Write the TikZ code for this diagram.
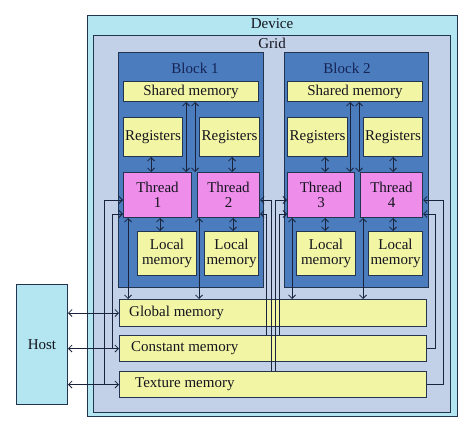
\documentclass[tikz,border=0pt]{standalone}
\usepackage{fontspec}
\setmainfont{Liberation Serif}
\usetikzlibrary{arrows.meta}
\definecolor{devc}{RGB}{180,230,241}
\definecolor{gridc}{RGB}{194,209,232}
\definecolor{blockc}{RGB}{74,124,190}
\definecolor{yelc}{RGB}{242,245,164}
\definecolor{pinkc}{RGB}{238,142,234}
\definecolor{edgec}{RGB}{35,52,80}
\definecolor{linec}{RGB}{25,35,60}
\definecolor{txtc}{RGB}{20,20,30}
\definecolor{blktxt}{RGB}{22,36,85}
\begin{document}
\begin{tikzpicture}[x=1pt,y=-1pt,
  every node/.style={font=\fontsize{15}{15}\selectfont, text=txtc},
  frame/.style={draw=edgec, line width=1pt, anchor=north west, inner sep=0pt, align=center},
  ybox/.style={frame, fill=yelc},
  tbox/.style={frame, fill=pinkc},
  lbl/.style={inner sep=0pt},
  dbl/.style={{Straight Barb[length=3.5pt,width=7pt]}-{Straight Barb[length=3.5pt,width=7pt]}, draw=linec, line width=0.8pt},
  sgl/.style={-{Straight Barb[length=3.5pt,width=7pt]}, draw=linec, line width=0.8pt}
]
\useasboundingbox (0,0) rectangle (474,433);
% containers
\node[frame, fill=devc, minimum width=370, minimum height=401] (device) at (87,15) {};
\node[frame, fill=gridc, minimum width=357, minimum height=377] (grid) at (93,35) {};
\node[lbl] (devlbl) at (272,24) {Device};
\node[lbl] (gridlbl) at (272,43) {Grid};
\node[frame, fill=blockc, minimum width=145, minimum height=235] (block1) at (118,52) {};
\node[frame, fill=blockc, minimum width=144, minimum height=235] (block2) at (284,52) {};
\node[lbl, text=blktxt] (b1lbl) at (195,68) {Block 1};
\node[lbl, text=blktxt] (b2lbl) at (347,68) {Block 2};
% shared memory
\node[ybox, minimum width=135, minimum height=20] (shared1) at (123,81) {Shared memory};
\node[ybox, minimum width=135, minimum height=20] (shared2) at (287,81) {Shared memory};
% registers
\node[ybox, minimum width=59, minimum height=39] (reg1) at (123,117) {Registers};
\node[ybox, minimum width=60, minimum height=39] (reg2) at (199,117) {Registers};
\node[ybox, minimum width=60, minimum height=39] (reg3) at (287,117) {Registers};
\node[ybox, minimum width=59, minimum height=39] (reg4) at (363,117) {Registers};
% threads
\node[tbox, minimum width=68, minimum height=45] (thread1) at (123,172) {Thread\\1};
\node[tbox, minimum width=62, minimum height=45] (thread2) at (197,172) {Thread\\2};
\node[tbox, minimum width=67, minimum height=45] (thread3) at (287,172) {Thread\\3};
\node[tbox, minimum width=62, minimum height=45] (thread4) at (360,172) {Thread\\4};
% local memory
\node[ybox, minimum width=59, minimum height=44] (local1) at (137,231) {Local\\memory};
\node[ybox, minimum width=54, minimum height=44] (local2) at (204,231) {Local\\memory};
\node[ybox, minimum width=59, minimum height=44] (local3) at (296,231) {Local\\memory};
\node[ybox, minimum width=54, minimum height=44] (local4) at (368,231) {Local\\memory};
% device memories
\node[ybox, minimum width=307, minimum height=27] (global) at (119,299) {};
\node[ybox, minimum width=307, minimum height=26] (const) at (119,335) {};
\node[ybox, minimum width=307, minimum height=26] (tex) at (119,371) {};
\node[lbl, anchor=west] (globallbl) at (129,312.5) {Global memory};
\node[lbl, anchor=west] (constlbl) at (131,348) {Constant memory};
\node[lbl, anchor=west] (texlbl) at (135,384) {Texture memory};
% host
\node[frame, fill=devc, minimum width=51, minimum height=120] (host) at (16,284) {Host};
% host arrows
\draw[dbl] (host.east |- global.west) -- (global.west);
\draw[dbl] (host.east |- const.west) -- (const.west);
\draw[dbl] (host.east |- tex.west) -- (tex.west);
% thread side connectors
\coordinate (l1) at (112,214);
\coordinate (l2) at (104,200);
\coordinate (m1) at (266,214);
\coordinate (m2) at (271,200);
\coordinate (m3) at (275,200);
\coordinate (m4) at (279,214);
\coordinate (r1) at (435,214);
\coordinate (r2) at (443,200);
\draw[sgl] (const.west -| l1) -- (l1) -- (l1 -| thread1.west);
\draw[sgl] (tex.west -| l2) -- (l2) -- (l2 -| thread1.west);
\draw[sgl] (const.north -| m1) -- (m1) -- (m1 -| thread2.east);
\draw[sgl] (tex.north -| m2) -- (m2) -- (m2 -| thread2.east);
\draw[sgl] (tex.north -| m3) -- (m3) -- (m3 -| thread3.west);
\draw[sgl] (const.north -| m4) -- (m4) -- (m4 -| thread3.west);
\draw[sgl] (const.east) -| (r1) -- (r1 -| thread4.east);
\draw[sgl] (tex.east) -| (r2) -- (r2 -| thread4.east);
% thread <-> global
\coordinate (g1) at (128,0);
\coordinate (g2) at (199,0);
\coordinate (g3) at (292,0);
\coordinate (g4) at (363,0);
\draw[dbl] (thread1.south -| g1) -- (global.north -| g1);
\draw[dbl] (thread2.south -| g2) -- (global.north -| g2);
\draw[dbl] (thread3.south -| g3) -- (global.north -| g3);
\draw[dbl] (thread4.south -| g4) -- (global.north -| g4);
% shared <-> thread
\coordinate (s1) at (186,0);
\coordinate (s2) at (195,0);
\coordinate (s3) at (350,0);
\coordinate (s4) at (359,0);
\draw[dbl] (shared1.south -| s1) -- (thread1.north -| s1);
\draw[dbl] (shared1.south -| s2) -- (thread2.north -| s2);
\draw[dbl] (shared2.south -| s3) -- (thread3.north -| s3);
\draw[dbl] (shared2.south -| s4) -- (thread4.north -| s4);
% registers <-> thread
\coordinate (a1) at (151,0);
\coordinate (a2) at (232,0);
\coordinate (a3) at (325,0);
\coordinate (a4) at (393,0);
\draw[dbl] (reg1.south -| a1) -- (thread1.north -| a1);
\draw[dbl] (reg2.south -| a2) -- (thread2.north -| a2);
\draw[dbl] (reg3.south -| a3) -- (thread3.north -| a3);
\draw[dbl] (reg4.south -| a4) -- (thread4.north -| a4);
% thread <-> local
\coordinate (c1) at (160,0);
\coordinate (c2) at (233,0);
\coordinate (c3) at (325,0);
\coordinate (c4) at (393,0);
\draw[dbl] (thread1.south -| c1) -- (local1.north -| c1);
\draw[dbl] (thread2.south -| c2) -- (local2.north -| c2);
\draw[dbl] (thread3.south -| c3) -- (local3.north -| c3);
\draw[dbl] (thread4.south -| c4) -- (local4.north -| c4);
\end{tikzpicture}
\end{document}
